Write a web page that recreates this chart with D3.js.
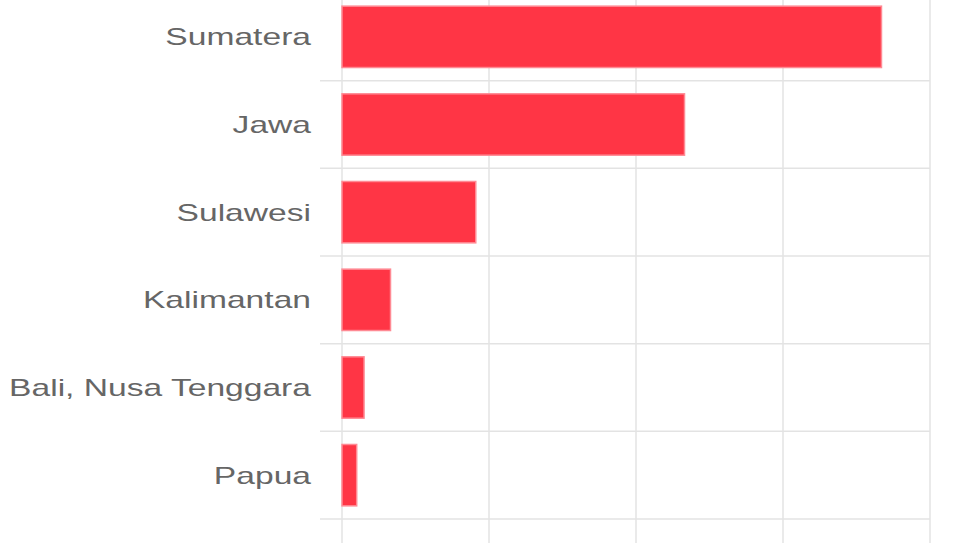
<!DOCTYPE html>
<html><head><meta charset="utf-8">
<script src="https://cdn.jsdelivr.net/npm/d3@7"></script>
<style>body{margin:0;background:#fff}</style></head>
<body><svg id="c" width="968" height="543"></svg>
<script>
const categories = ["Sumatera","Jawa","Sulawesi","Kalimantan","Bali, Nusa Tenggara","Papua"];
const values = [36.7, 23.3, 9.1, 3.3, 1.5, 1.0];
const xTicks = [0,10,20,30,40];

const svg = d3.select("#c");
const x = d3.scaleLinear().domain([0,40]).range([342,930]);
const y = d3.scaleBand().domain(categories).range([-7,519]).paddingInner(0.3).paddingOuter(0.15);
const step = y.step();
const bandStart = c => y(c) - y.paddingInner()*step/2;

const g = svg.append("g");
categories.forEach(c => {
  const yy = bandStart(c) + step;
  g.append("line").attr("x1",320).attr("x2",930).attr("y1",yy).attr("y2",yy)
   .attr("stroke","#e3e3e3").attr("stroke-width",1.5);
});
xTicks.forEach(t => {
  g.append("line").attr("x1",x(t)).attr("x2",x(t)).attr("y1",0).attr("y2",543)
   .attr("stroke","#e3e3e3").attr("stroke-width",1.5);
});
svg.selectAll("rect.bar").data(categories).enter().append("rect")
  .attr("x",x(0)).attr("y",d=>y(d)).attr("height",y.bandwidth())
  .attr("width",(d,i)=>x(values[i])-x(0))
  .attr("fill","#ff3545").attr("stroke","#ff8a94").attr("stroke-width",1.5);
svg.selectAll("text.lab").data(categories).enter().append("text")
  .attr("transform",d=>`translate(311,${y(d)+y.bandwidth()/2}) scale(1.4,1)`)
  .attr("dy","0.35em")
  .attr("text-anchor","end").attr("font-family","Liberation Sans, Arial, sans-serif")
  .attr("font-size",24).attr("fill","#666").text(d=>d);
</script></body></html>
